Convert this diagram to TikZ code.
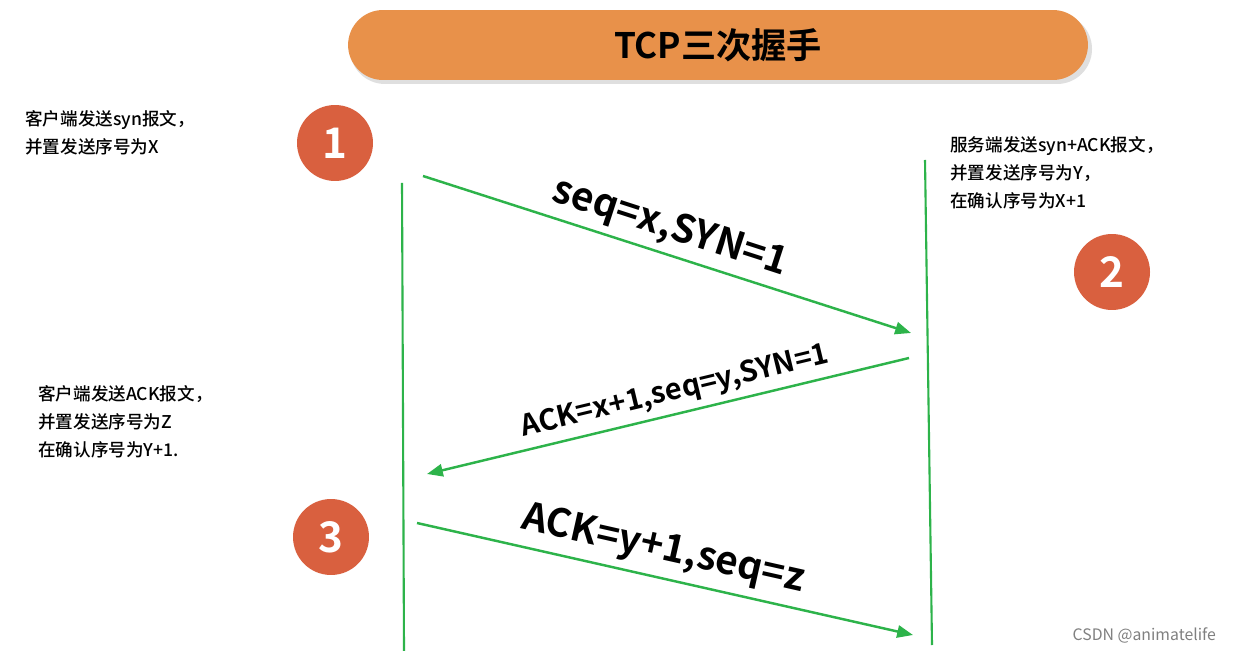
\documentclass[tikz,border=0pt]{standalone}
\usepackage{fontspec}
\setmainfont{Noto Sans CJK SC}
\newfontfamily\cjkb{Noto Sans CJK SC Bold}
\newfontfamily\cjkm{Noto Sans CJK SC Medium}
\usetikzlibrary{arrows.meta}
\definecolor{orng}{HTML}{E8914A}
\definecolor{redc}{HTML}{D9603F}
\definecolor{grn}{HTML}{2DB34A}
\tikzset{
  px/.style={x=0.02cm,y=-0.02cm},
  num/.style={circle,fill=redc,minimum size=1.52cm,text=white,font=\cjkb\fontsize{24}{24}\selectfont,inner sep=0},
  life/.style={grn,line width=1.2pt},
  msg/.style={grn,line width=1.4pt,-{Triangle[length=9pt,width=7pt]}},
  lbl/.style={font=\cjkb\fontsize{22}{22}\selectfont,inner sep=0},
  note/.style={font=\cjkm\fontsize{10}{16}\selectfont,align=left,anchor=north west,inner sep=0}
}
\begin{document}
\begin{tikzpicture}[px]
\useasboundingbox[fill=white] (0,0) rectangle (1236,651);
\fill[gray!25,rounded corners=0.7cm] (350,14) rectangle (1092,84);
\node[fill=orng,rounded corners=0.7cm,minimum width=14.8cm,minimum height=1.4cm,font=\cjkb\fontsize{20}{20}\selectfont] (title) at (718,45) {TCP三次握手};
\node[num] (n1) at (335,143) {1};
\node[num] (n2) at (1112,272) {2};
\node[num] (n3) at (331,537) {3};
\coordinate (lt) at (402,183); \coordinate (lb) at (404,651);
\coordinate (rt) at (925,160); \coordinate (rb) at (932,645);
\draw[life] (lt) -- (lb);
\draw[life] (rt) -- (rb);
\coordinate (a1s) at (423,176); \coordinate (a1e) at (911,333);
\coordinate (a2s) at (909,358); \coordinate (a2e) at (427,474);
\coordinate (a3s) at (417,523); \coordinate (a3e) at (913,635);
\draw[msg] (a1s) -- (a1e);
\draw[msg] (a2s) -- (a2e);
\draw[msg] (a3s) -- (a3e);
\node[lbl,rotate=-18] (l1) at (670,228) {seq=x,SYN=1};
\node[lbl,rotate=13.5,font=\cjkb\fontsize{16.5}{16.5}\selectfont] (l2) at (675,392) {ACK=x+1,seq=y,SYN=1};
\node[lbl,rotate=-12.7] (l3) at (663,550) {ACK=y+1,seq=z};
\node[note] (t1) at (25,110) {客户端发送syn报文，\\并置发送序号为X};
\node[note] (t2) at (950,136) {服务端发送syn+ACK报文，\\并置发送序号为Y，\\在确认序号为X+1};
\node[note] (t3) at (38,385) {客户端发送ACK报文，\\并置发送序号为Z\\在确认序号为Y+1.};
\node[font=\fontsize{9}{9}\selectfont,text=gray,anchor=east] (wm) at (1222,635) {CSDN @animatelife};
\end{tikzpicture}
\end{document}
